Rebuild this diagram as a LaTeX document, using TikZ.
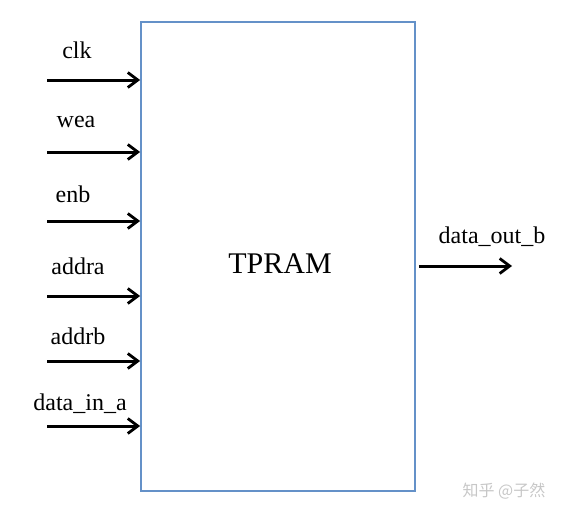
\documentclass[tikz,border=0pt]{standalone}
\usepackage{fontspec}
\setmainfont{Liberation Serif}
\newfontfamily\cjk{Noto Sans CJK SC}
\usepackage{tikz}
\usetikzlibrary{positioning,calc,arrows.meta}

\definecolor{boxblue}{RGB}{100,145,200}

\tikzset{
  sig/.style={line width=3pt, -{Straight Barb[length=10pt,width=15pt,line width=2.8pt]}},
  siglabel/.style={font=\fontsize{24}{27}\selectfont, inner sep=0pt},
}

\begin{document}
\begin{tikzpicture}[x=1pt,y=-1pt]
    \useasboundingbox (0,0) rectangle (562,514);

    \node[draw=boxblue, line width=1.8pt, minimum width=274pt, minimum height=469pt] (ram) at (278,256.5) {};
    \node[font=\fontsize{30}{33}\selectfont, inner sep=0pt] (title) at ($(ram.center)+(2,7)$) {TPRAM};

    % inputs
    \foreach \y/\name/\txt/\lx/\ly in {80/clk/clk/77/50, 152/wea/wea/76/122, 221/enb/enb/73/194,
        296/addra/addra/78/266, 361/addrb/addrb/78/336, 426/din/data\_in\_a/80/404}{
      \coordinate (s\name) at (47,\y);
      \node[siglabel] (l\name) at (\lx,\ly) {\txt};
      \draw[sig] (s\name) -- (s\name -| ram.west);
    }

    % output
    \coordinate (dout) at (512,266);
    \coordinate (dsrc) at ($(dout -| ram.east)+(3,0)$);
    \node[siglabel] (ldout) at (492,237) {data\_out\_b};
    \draw[sig] (dsrc) -- (dout);

    \node[text=black!22, font=\cjk\fontsize{16}{18}\selectfont] (mark) at (504,491) {知乎 @子然};
\end{tikzpicture}
\end{document}
